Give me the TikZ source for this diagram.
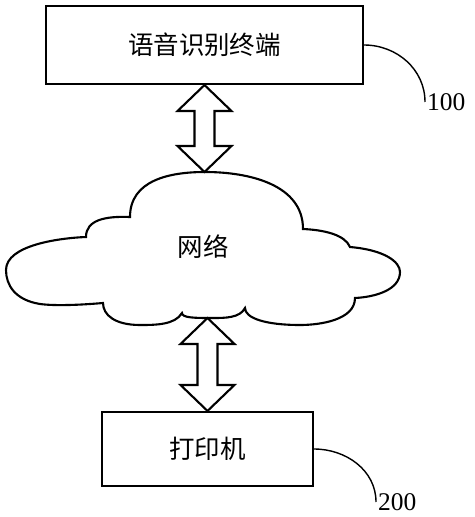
\documentclass[tikz,border=0pt]{standalone}
\usepackage{fontspec}
\setmainfont{Liberation Serif}
\newfontfamily\cjk{Noto Sans CJK SC}
\usetikzlibrary{calc,positioning}
\tikzset{
    x=0.02cm, y=-0.02cm, line join=miter,
    box/.style ={rectangle, draw, line width=1.2pt, font=\cjk\fontsize{14.5}{16}\selectfont},
    num/.style = {inner sep=1pt, anchor=west, font=\fontsize{14.5}{16}\selectfont},
    lead/.style = {line width=0.8pt, out=0, in=90},
    dblarrow/.style={draw, line width=1.2pt, to path={
        (\tikztostart) -- ++(27,26) -- ++(-17,0) -- ($(\tikztotarget)+(10,-26)$)
        -- ++(17,0) -- (\tikztotarget) -- ++(-27,-26) -- ++(17,0)
        -- ($(\tikztostart)+(-10,26)$) -- ++(-17,0) -- cycle}}
}
\begin{document}
\begin{tikzpicture}
    \useasboundingbox (0,0) rectangle (474,517);
    \node[box, minimum width=6.34cm, minimum height=1.56cm] (term) at (204.5,45) {语音识别终端};
    \node[box, minimum width=4.22cm, minimum height=1.48cm] (prn) at (207.5,449) {打印机};
    \node[font=\cjk\fontsize{14.5}{16}\selectfont] (net) at (203,247) {网络};
    \node[num] (n100) at (425,102) {100};
    \node[num] (n200) at (376,502) {200};

    % cloud
    \draw[line width=1.2pt] (130,217) .. controls (130,180) and (170,172) .. (205,172)
        .. controls (250,172) and (303,185) .. (303,229)
        .. controls (325,230) and (345,235) .. (350,247)
        .. controls (385,250) and (400,262) .. (400,272)
        .. controls (400,290) and (375,297) .. (355,298)
        .. controls (355,320) and (320,325) .. (300,325)
        .. controls (265,325) and (245,318) .. (245,308)
        .. controls (240,318) and (225,318) .. (213,318)
        .. controls (195,318) and (182,318) .. (182,313)
        .. controls (175,325) and (155,325) .. (140,325)
        .. controls (115,325) and (103,315) .. (103,303)
        .. controls (80,305) and (55,306) .. (40,304)
        .. controls (15,300) and (6,285) .. (6,270)
        .. controls (6,245) and (60,238) .. (86,237)
        .. controls (86,220) and (105,216) .. (130,217) -- cycle;
    \coordinate (cloudtop) at (204,172);
    \coordinate (cloudbot) at (207,318);

    \path (term.south) edge[dblarrow] (term.south |- cloudtop);
    \path (prn.north |- cloudbot) edge[dblarrow] (prn.north);
    \path (term.east) edge[lead] (n100.west);
    \path (prn.east) edge[lead] (n200.west);
\end{tikzpicture}
\end{document}
